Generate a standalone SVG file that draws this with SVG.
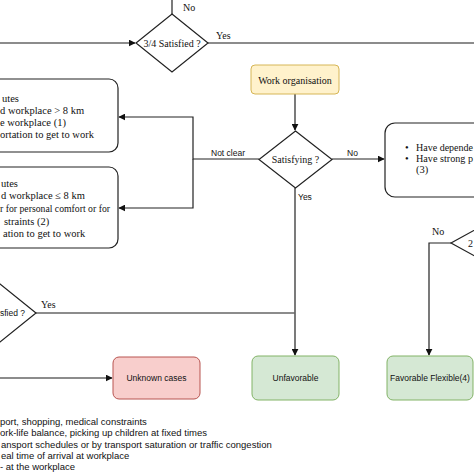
<svg xmlns="http://www.w3.org/2000/svg" width="474" height="474" viewBox="0 0 474 474">
<defs>
<marker id="arr" viewBox="0 0 10 10" refX="9" refY="5" markerWidth="7" markerHeight="7" markerUnits="userSpaceOnUse" orient="auto">
<path d="M0,0 L10,5 L0,10 z" fill="#111"/>
</marker>
<style>
.ln{fill:none;stroke:#222;stroke-width:1.2}
.lg{fill:none;stroke:#666;stroke-width:1.3}
.dm{fill:#fff;stroke:#222;stroke-width:1.2}
.bx{fill:#fff;stroke:#222;stroke-width:1.2}
.serif{font-family:"Liberation Serif","Times New Roman",serif;fill:#111}
.sans{font-family:"Liberation Sans",Arial,sans-serif;fill:#111}
</style>
</defs>
<rect width="474" height="474" fill="#fff"/>

<g id="connectors">
<path class="ln" d="M172,0 V14"/>
<path class="lg" d="M0,43 H135" marker-end="url(#arr)"/>
<path class="lg" d="M208,43 H474"/>
<path class="ln" d="M295,94 V130" marker-end="url(#arr)"/>
<path class="ln" d="M259,159 H193 V117 H119" marker-end="url(#arr)"/>
<path class="ln" d="M193,159 V208 H119" marker-end="url(#arr)"/>
<path class="ln" d="M332,159 H384" marker-end="url(#arr)"/>
<path class="ln" d="M295,188 V355" marker-end="url(#arr)"/>
<path class="lg" d="M36,313 H295"/>
<path class="lg" d="M0,378 H112" marker-end="url(#arr)"/>
<path class="ln" d="M451,243 H429 V355" marker-end="url(#arr)"/>
<text class="serif" x="183" y="11" font-size="10">No</text>
<text class="serif" x="216" y="39" font-size="10">Yes</text>
<text class="sans" x="211" y="156" font-size="8.5">Not clear</text>
<text class="sans" x="347" y="156" font-size="8.5">No</text>
<text class="sans" x="298" y="200" font-size="8.5">Yes</text>
<text class="serif" x="41" y="308" font-size="10">Yes</text>
<text class="serif" x="432" y="235" font-size="10">No</text>
</g>

<g id="diamond-top">
<polygon class="dm" points="172,14 208,43 172,72 136,43"/>
<text class="serif" x="172" y="46.5" font-size="10" text-anchor="middle">3/4 Satisfied ?</text>
</g>

<g id="box-1">
<rect class="bx" x="-20" y="79" width="138" height="73" rx="9"/>
<text class="serif" font-size="10.5">
<tspan x="2" y="101.5">utes</tspan>
<tspan x="0" y="114">d workplace &gt; 8 km</tspan>
<tspan x="0" y="126">e workplace (1)</tspan>
<tspan x="0" y="138">ortation to get to work</tspan>
</text>
</g>

<g id="box-2">
<rect class="bx" x="-20" y="167" width="138" height="81" rx="9"/>
<text class="serif" font-size="10.5">
<tspan x="1" y="186.5">utes</tspan>
<tspan x="1" y="198.5">d workplace ≤ 8 km</tspan>
<tspan x="0" y="212" textLength="110" lengthAdjust="spacingAndGlyphs">r for personal comfort or for</tspan>
<tspan x="4" y="224.5">straints (2)</tspan>
<tspan x="3" y="236.5">ation to get to work</tspan>
</text>
</g>

<g id="work-organisation">
<rect x="251" y="65" width="88" height="29" rx="4" fill="#fff2cc" stroke="#d6b656" stroke-width="1"/>
<text class="serif" x="295" y="83.5" font-size="10" text-anchor="middle">Work organisation</text>
</g>

<g id="diamond-satisfying">
<polygon class="dm" points="295.5,131 332,159.5 295.5,188 259,159.5"/>
<text class="serif" x="295.5" y="163" font-size="10" text-anchor="middle">Satisfying ?</text>
</g>

<g id="box-3">
<rect class="bx" x="385" y="123" width="120" height="74" rx="10"/>
<text class="serif" font-size="10.5">
<tspan x="405" y="150.5">•</tspan>
<tspan x="416" y="150.5" textLength="57" lengthAdjust="spacingAndGlyphs">Have depende</tspan>
<tspan x="405" y="162">•</tspan>
<tspan x="416" y="162" textLength="57" lengthAdjust="spacingAndGlyphs">Have strong p</tspan>
<tspan x="416" y="173">(3)</tspan>
</text>
</g>

<g id="diamond-right">
<polygon class="dm" points="491,221 531,243 491,265 451,243"/>
<text class="serif" x="468" y="246.5" font-size="10">2</text>
</g>

<g id="diamond-left">
<polygon class="dm" points="0,284 36,313 0,342 -36,313"/>
<text class="sans" x="0" y="316" font-size="8.5">sfied ?</text>
</g>

<g id="unknown-cases">
<rect x="113" y="357" width="87" height="42" rx="6" fill="#f8cecc" stroke="#b85450" stroke-width="1"/>
<text class="sans" x="156.5" y="381" font-size="8.5" text-anchor="middle">Unknown cases</text>
</g>

<g id="unfavorable">
<rect x="252" y="356" width="87" height="44" rx="6" fill="#d5e8d4" stroke="#82b366" stroke-width="1"/>
<text class="sans" x="295.5" y="381" font-size="8.5" text-anchor="middle">Unfavorable</text>
</g>

<g id="favorable-flexible">
<rect x="387" y="356" width="86" height="44" rx="6" fill="#d5e8d4" stroke="#82b366" stroke-width="1"/>
<text class="sans" x="430" y="381" font-size="8.5" text-anchor="middle">Favorable Flexible(4)</text>
</g>

<g id="legend">
<text class="sans" font-size="9.5">
<tspan x="0" y="425">port, shopping, medical constraints</tspan>
<tspan x="0" y="436">ork-life balance, picking up children at fixed times</tspan>
<tspan x="1" y="447.5">ansport schedules or by transport saturation or traffic congestion</tspan>
<tspan x="1" y="458.5">eal time of arrival at workplace</tspan>
<tspan x="0" y="469.5">- at the workplace</tspan>
</text>
</g>
</svg>
